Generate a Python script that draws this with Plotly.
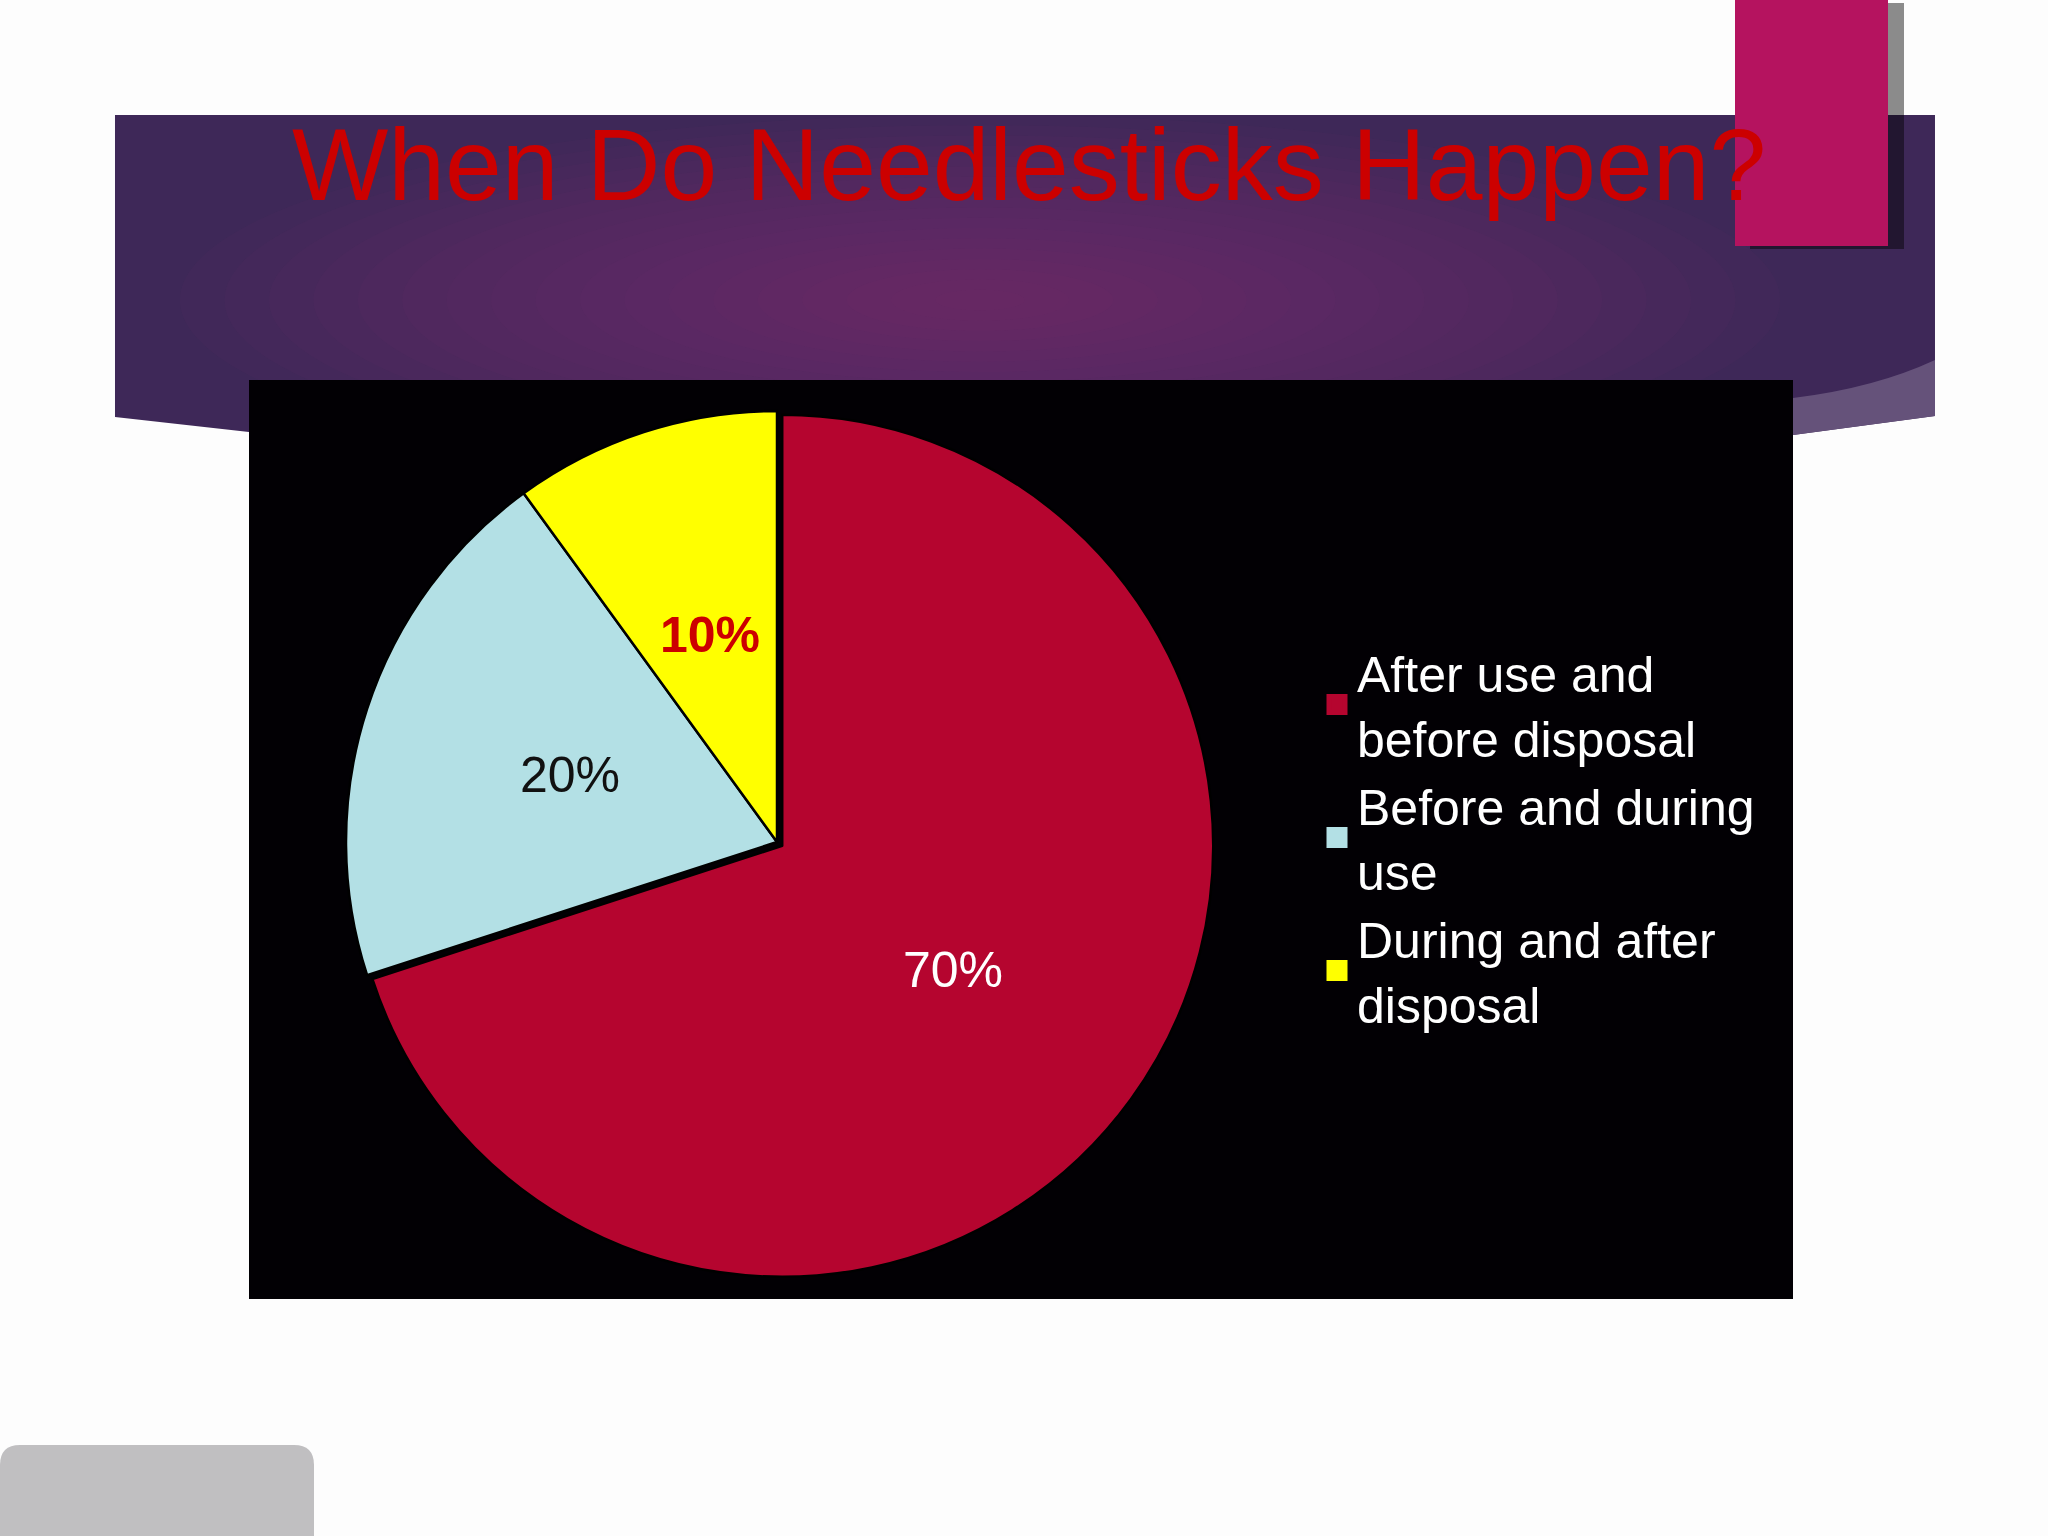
import math
import plotly.graph_objects as go

# ---- data ----
categories = ["After use and<br>before disposal", "Before and during<br>use", "During and after<br>disposal"]
values = [70, 20, 10]
slice_colors = ["#b5052f", "#b3e0e5", "#ffff00"]
label_colors = ["#ffffff", "#111111", "#cc0000"]
label_bold = [False, False, True]
title_text = "When Do Needlesticks Happen?"

W, H = 2048, 1536
FONT = "Liberation Sans, Arial, sans-serif"


def px(x):
    return x / W


def py(y):
    return 1 - y / H


def path(points, close=True):
    s = "M {:.5f} {:.5f}".format(px(points[0][0]), py(points[0][1]))
    for p in points[1:]:
        s += " L {:.5f} {:.5f}".format(px(p[0]), py(p[1]))
    return s + (" Z" if close else "")


shapes = []
# purple banner
shapes.append(dict(type="path", xref="paper", yref="paper", layer="below",
                   path=path([(115, 115), (1935, 115), (1935, 416), (1793, 435), (249, 432), (115, 417)]),
                   fillcolor="#3e2858", line=dict(width=0)))
# smooth radial glow in banner
cx, cy = 980, 300
n = 18
for i in range(n):
    f = 1 - i / n
    rx, ry = 800 * f, 185 * f
    shapes.append(dict(type="circle", xref="paper", yref="paper", layer="below",
                       x0=px(cx - rx), x1=px(cx + rx), y0=py(cy + ry), y1=py(cy - ry),
                       fillcolor="#8a3d7c", opacity=0.05, line=dict(width=0)))
# lavender curved strip at right
lav = "M {:.5f} {:.5f} Q {:.5f} {:.5f} {:.5f} {:.5f} L {:.5f} {:.5f} L {:.5f} {:.5f} Z".format(
    px(1793), py(398), px(1875), py(388), px(1935), py(360), px(1935), py(416), px(1793), py(435))
shapes.append(dict(type="path", xref="paper", yref="paper", layer="below", path=lav,
                   fillcolor="#65527a", line=dict(width=0)))
# shadow of pink block
shapes.append(dict(type="rect", xref="paper", yref="paper", layer="below",
                   x0=px(1750), x1=px(1904), y0=py(249), y1=py(3),
                   fillcolor="black", opacity=0.45, line=dict(width=0)))
# pink block
shapes.append(dict(type="rect", xref="paper", yref="paper", layer="below",
                   x0=px(1735), x1=px(1888), y0=py(246), y1=py(0),
                   fillcolor="#b5135f", line=dict(width=0)))
# black chart area
shapes.append(dict(type="rect", xref="paper", yref="paper", layer="below",
                   x0=px(249), x1=px(1793), y0=py(1299), y1=py(380),
                   fillcolor="#020004", line=dict(width=0)))
# grey rounded box bottom-left
r = 20
gx0, gx1, gy0, gy1 = 0, 314, 1445, 1536
rounded = ("M {a} {b} L {c} {b} Q {d} {b} {d} {e} L {d} {f} L {g} {f} L {g} {e} Q {g} {b} {h} {b} Z").format(
    a=px(gx0 + r), b=py(gy0), c=px(gx1 - r), d=px(gx1), e=py(gy0 + r), f=py(gy1), g=px(gx0), h=px(gx0 + r))
shapes.append(dict(type="path", xref="paper", yref="paper", layer="below", path=rounded,
                   fillcolor="#c0bfc1", line=dict(width=0)))

# pie geometry (centre 777,842 ; radius 431 px)
PCX, PCY, PR = 777, 842, 431
pull_max = 0.015
half = PR * (1 + pull_max)
domain = dict(x=[px(PCX - half), px(PCX + half)], y=[py(PCY + half), py(PCY - half)])

fig = go.Figure()
fig.add_trace(go.Pie(
    labels=categories, values=values, sort=False, direction="clockwise", rotation=0,
    marker=dict(colors=slice_colors, line=dict(color="#000000", width=2.5)),
    textinfo="none", pull=[pull_max, 0, 0], domain=domain, hoverinfo="skip",
    showlegend=False,
))

# legend entries (square keys) from the same categories / colours
for name, col in zip(categories, slice_colors):
    fig.add_trace(go.Scatter(
        x=[None], y=[None], mode="markers", name=name, hoverinfo="skip",
        marker=dict(symbol="square", size=16, color=col, line=dict(color=col, width=5)),
    ))

# percentage labels at half radius along each slice bisector (clockwise from 12 o'clock)
total = sum(values)
annotations = []
start = 0.0
for v, col, bold in zip(values, label_colors, label_bold):
    mid = start + v / total * 360 / 2
    start += v / total * 360
    a = math.radians(mid)
    lx = PCX + 0.505 * PR * math.sin(a)
    ly = PCY - 0.505 * PR * math.cos(a)
    txt = "{:.0f}%".format(100 * v / total)
    if bold:
        txt = "<b>" + txt + "</b>"
    annotations.append(dict(text=txt, xref="paper", yref="paper", x=px(lx), y=py(ly),
                            xanchor="center", yanchor="middle", showarrow=False,
                            font=dict(size=50, color=col, family=FONT)))

annotations.append(dict(text=title_text, xref="paper", yref="paper",
                        x=px(1029), y=py(165), xanchor="center", yanchor="middle",
                        showarrow=False, font=dict(size=102, color="#cc0000", family=FONT)))

fig.update_layout(
    width=W, height=H, margin=dict(l=0, r=0, t=0, b=0),
    paper_bgcolor="#fdfdfd", plot_bgcolor="rgba(0,0,0,0)",
    xaxis=dict(visible=False), yaxis=dict(visible=False),
    shapes=shapes,
    showlegend=True,
    legend=dict(x=px(1317), y=py(633), xanchor="left", yanchor="top",
                font=dict(size=50, color="white", family=FONT),
                bgcolor="rgba(0,0,0,0)", borderwidth=0, tracegroupgap=0),
    annotations=annotations,
)

fig.write_html("out.html", config={"displayModeBar": False},
               post_script="document.body.style.margin='0px';")
